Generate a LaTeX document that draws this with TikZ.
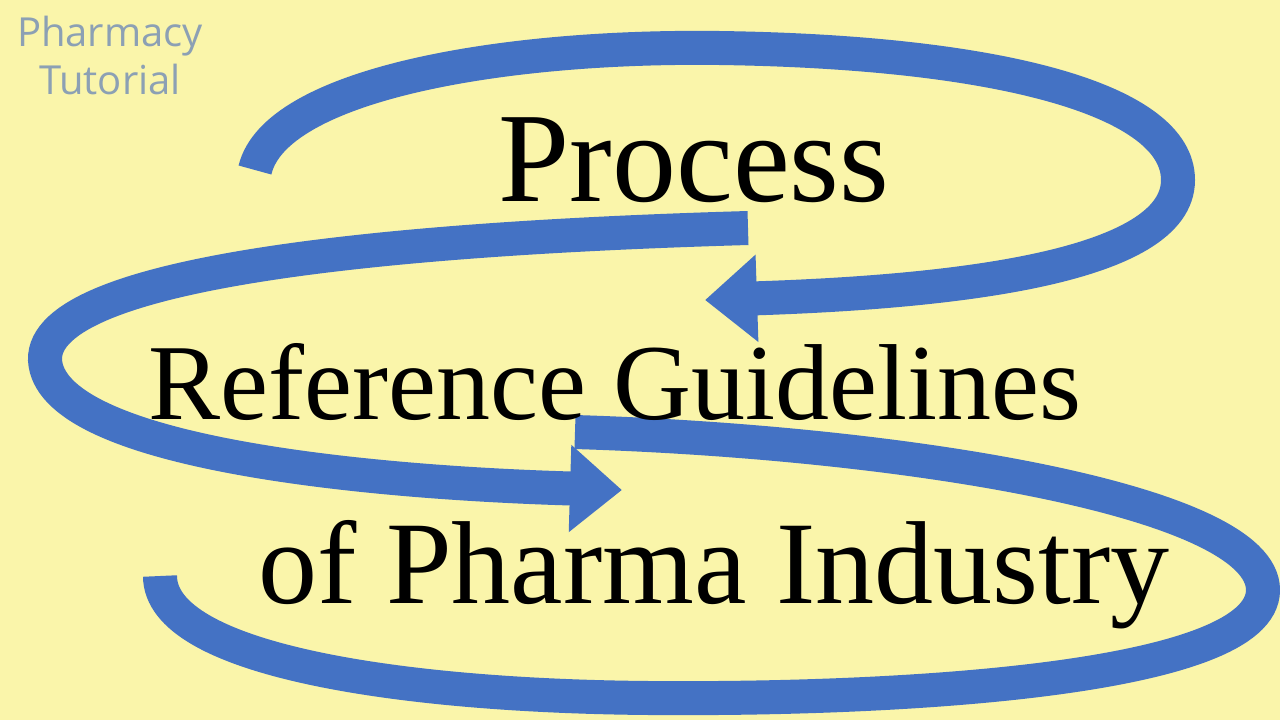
\documentclass[tikz,border=0pt]{standalone}
\usepackage{fontspec}
\setmainfont{Liberation Serif}
\newfontfamily\sansf{Open Sans}
\usetikzlibrary{arrows.meta}
\definecolor{bg}{RGB}{250,245,170}
\definecolor{blu}{RGB}{68,114,196}
\definecolor{wm}{RGB}{140,160,180}
\tikzset{band/.style={draw=blu,line width=17pt},
 tip/.style={-{Triangle[length=26pt,width=42pt]}}}
\begin{document}
\begin{tikzpicture}[x=0.5pt,y=-0.5pt]
\fill[bg] (0,0) rectangle (1280,720);
\useasboundingbox (0,0) rectangle (1280,720);
\draw[band,tip] (255,170) .. controls (275,85) and (500,45) .. (720,48) .. controls (1000,52) and (1178,100) .. (1178,180) .. controls (1178,268) and (950,292) .. (705,300);
\draw[band,tip] (748,228) .. controls (400,238) and (42,270) .. (45,360) .. controls (50,450) and (350,482) .. (622,490);
\draw[band] (575,432) .. controls (900,442) and (1263,500) .. (1263,590) .. controls (1263,680) and (900,700) .. (650,698) .. controls (400,696) and (160,660) .. (160,576);
\node[font=\fontsize{64}{70}\selectfont] (t1) at (694,160) {Process};
\node[font=\fontsize{54}{60}\selectfont] (t2) at (615,382) {Reference Guidelines};
\node[font=\fontsize{59}{64}\selectfont] (t3) at (714,575) {of Pharma Industry};
\node[font=\sansf\fontsize{20}{24}\selectfont,text=wm,align=center] (wm) at (110,55) {Pharmacy\\Tutorial};
\end{tikzpicture}
\end{document}
